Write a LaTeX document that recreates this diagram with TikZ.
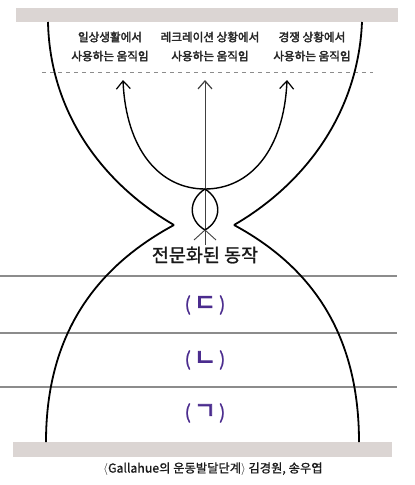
\documentclass[tikz,border=0pt]{standalone}
\usepackage{fontspec}
\usetikzlibrary{arrows.meta}
\newfontfamily\kr{Noto Sans CJK KR}
\newfontfamily\krb[FakeBold=2.5]{Noto Sans CJK KR}
\newfontfamily\krs[FakeBold=3.5]{Noto Sans CJK KR}
\newfontfamily\krm[FakeBold=1]{Noto Sans CJK KR}
\definecolor{barcol}{HTML}{DBD5D3}
\definecolor{stagecol}{HTML}{4B2C8E}
\definecolor{linecol}{HTML}{8C8C8C}
\begin{document}
\begin{tikzpicture}[x=1pt,y=-1pt,
  curve/.style={line width=1.8pt, black},
  thinline/.style={line width=0.9pt, black!75},
  arcline/.style={line width=1.4pt, black},
  hline/.style={line width=1.4pt, linecol},
  bar/.style={fill=barcol, draw=none},
  lab/.style={font=\krb\fontsize{11.6}{19}\selectfont, align=center, text=black!85, inner sep=0pt},
  stage/.style={font=\krm\fontsize{19}{19}\selectfont, text=stagecol},
  arr/.style={-{Straight Barb[length=8pt,width=14pt,line width=1.2pt]}}]

\useasboundingbox (0,0) rectangle (415,485);
\fill[white] (0,0) rectangle (415,485);

% bars
\fill[bar] (16,8) rectangle (398,22);
\fill[bar] (13,442) rectangle (392,457);

% horizontal lines
\draw[hline] (0,276) -- (397,276);
\draw[hline] (0,333) -- (397,333);
\draw[hline] (0,387) -- (397,387);

% dashed line
\draw[linecol, line width=1pt, dash pattern=on 4pt off 4pt] (42,72) -- (373,72);

% hourglass outline
\coordinate (cl) at (174,225);
\coordinate (cr) at (234,225);
\draw[curve] (48,22) .. controls (50,115) and (105,185) .. (cl);
\draw[curve] (362,22) .. controls (358,115) and (303,185) .. (cr);
\draw[curve] (cl) .. controls (100,265) and (46,330) .. (46,442);
\draw[curve] (cr) .. controls (308,265) and (359,330) .. (359,442);

% arrows
\coordinate (ub) at (205,189);
\coordinate (lb) at (205,230);
\coordinate (tl) at (123,80);
\coordinate (tm) at (205,80);
\coordinate (tr) at (287,80);
\coordinate (vb) at (205,245);
\coordinate (gl) at (194,240);
\coordinate (gr) at (216,240);
\draw[arcline, arr] (ub) .. controls (160,189) and (126,150) .. (tl);
\draw[arcline, arr] (ub) .. controls (250,189) and (284,150) .. (tr);
\draw[thinline, arr] (vb) -- (tm);
\draw[arcline] (ub) .. controls (188,200) and (188,220) .. (lb) .. controls (222,220) and (222,200) .. (ub);
\draw[thinline] (lb) -- (gl);
\draw[thinline] (lb) -- (gr);

% labels
\node[lab] (l1) at (110,46.5) {일상생활에서\\사용하는 움직임};
\node[lab] (l2) at (210,46.5) {레크레이션 상황에서\\사용하는 움직임};
\node[lab] (l3) at (312,46.5) {경쟁 상황에서\\사용하는 움직임};

\node[font=\krm\fontsize{18.5}{18.5}\selectfont, text=black!90] (sp) at (205,255) {전문화된 동작};

\node[stage] (s3) at (205,305) {(\hspace{3pt}{\krs\fontsize{24}{24}\selectfont ㄷ}\hspace{3pt})};
\node[stage] (s2) at (205,360) {(\hspace{3pt}{\krs\fontsize{24}{24}\selectfont ㄴ}\hspace{3pt})};
\node[stage] (s1) at (205,413) {(\hspace{3pt}{\krs\fontsize{24}{24}\selectfont ㄱ}\hspace{3pt})};

\node[font=\krm\fontsize{12.3}{12.3}\selectfont, text=black!90] (cap) at (213,469) {$\langle$Gallahue의 운동발달단계$\rangle$ 김경원, 송우엽};
\end{tikzpicture}
\end{document}
